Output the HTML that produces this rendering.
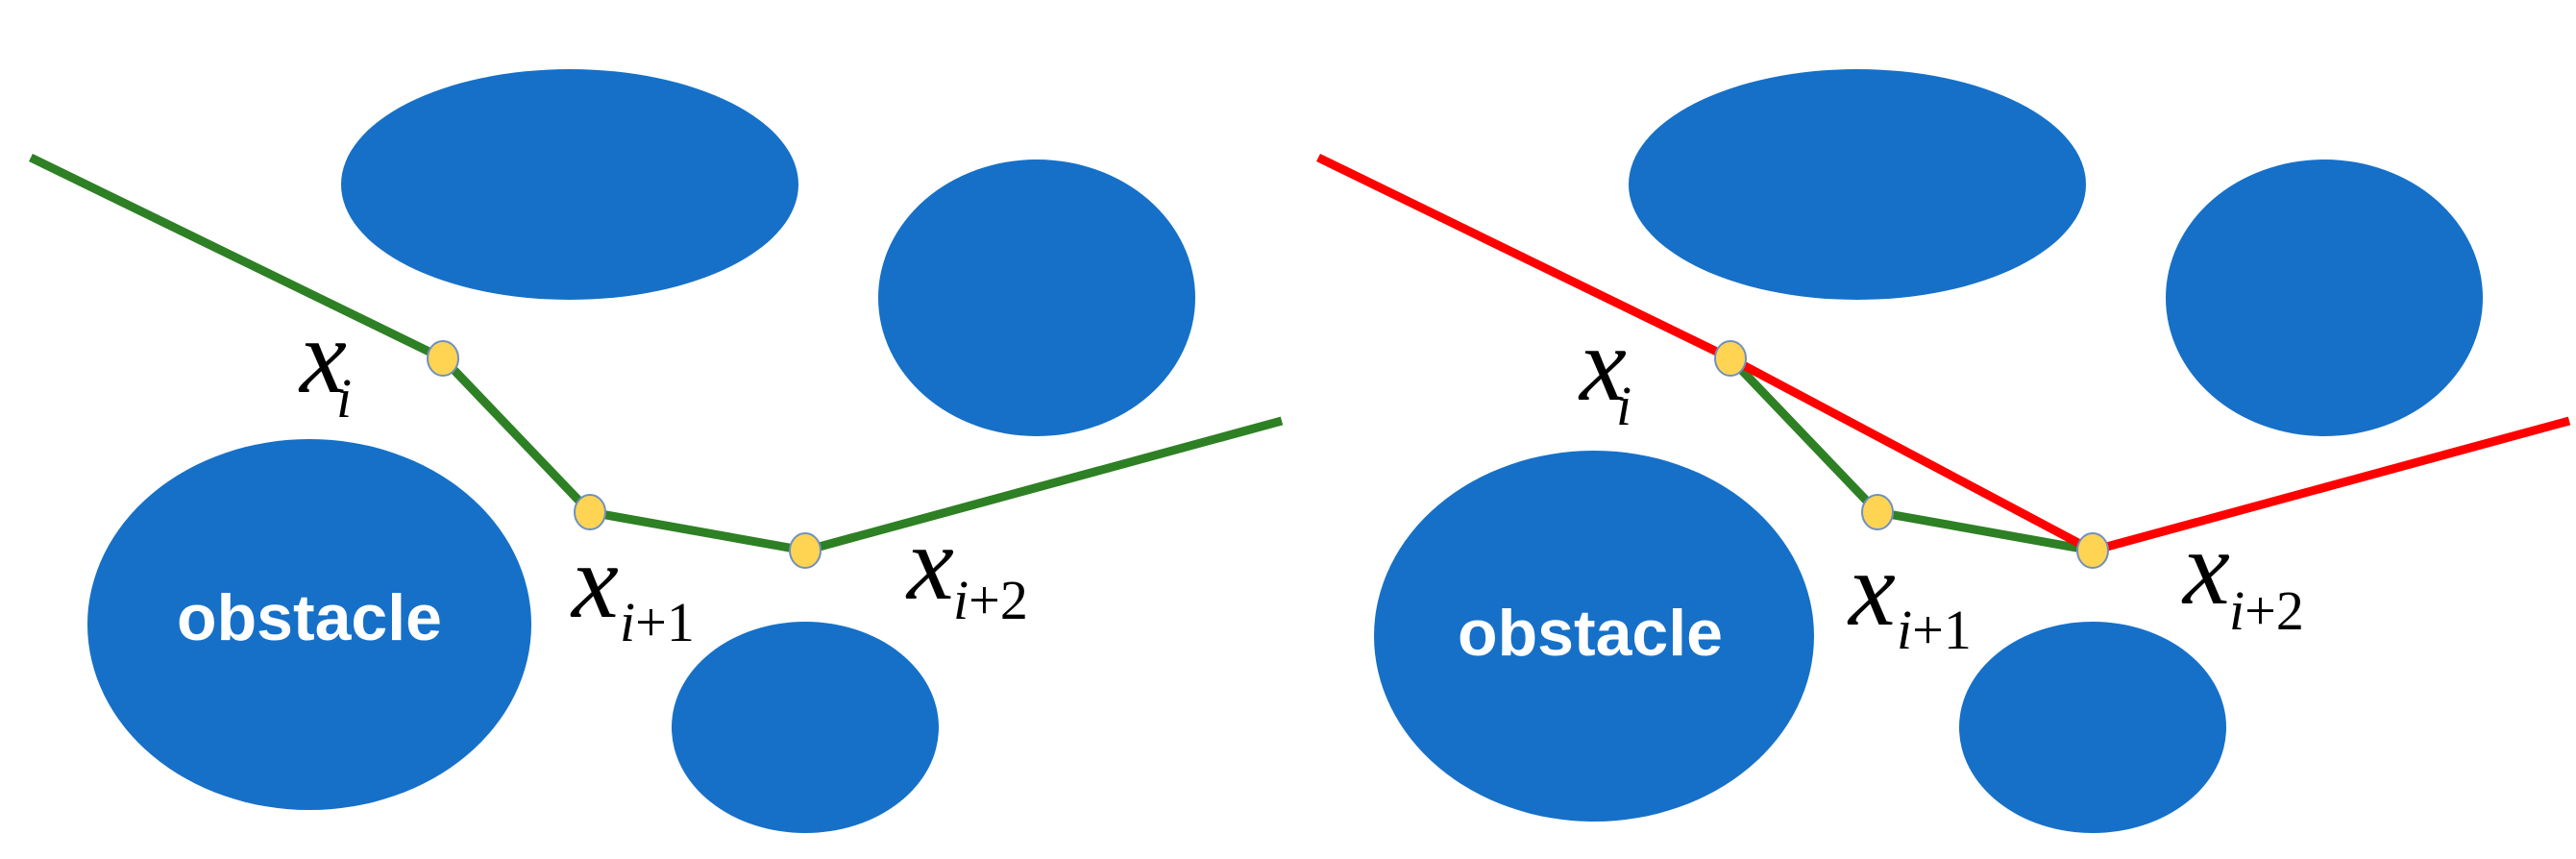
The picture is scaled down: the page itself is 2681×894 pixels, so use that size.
<!DOCTYPE html>
<html><head><meta charset="utf-8"><style>
html,body{margin:0;padding:0;background:#fff}
svg{display:block}
.lab{font-family:"Liberation Serif",serif;font-style:italic;fill:#000}
.sub{font-family:"Liberation Serif",serif;fill:#000}
.ob{font-family:"Liberation Sans",sans-serif;font-weight:bold;fill:#fff}
</style></head><body>
<svg width="2681" height="894" viewBox="0 0 2681 894" xmlns="http://www.w3.org/2000/svg">
<g id="L">
<g fill="#1670C8">
<ellipse cx="593" cy="192" rx="238" ry="120"/>
<ellipse cx="1079" cy="310" rx="165" ry="144"/>
<ellipse cx="322" cy="650" rx="231" ry="193"/>
<ellipse cx="838" cy="757" rx="139" ry="110"/>
</g>
<text class="ob" x="322" y="666" font-size="68" text-anchor="middle">obstacle</text>
<polyline points="32,164 461,373 614,533 838,573 1334,438" fill="none" stroke="#2E8024" stroke-width="9" stroke-linejoin="round"/>
<g fill="#FFD452" stroke="#6E8FC0" stroke-width="2">
<ellipse cx="461" cy="373" rx="16" ry="18"/>
<ellipse cx="614" cy="533" rx="16" ry="18"/>
<ellipse cx="838" cy="573" rx="16" ry="18"/>
</g>
<text class="lab" x="312" y="408" font-size="110">x</text>
<text class="lab" x="350" y="434" font-size="58">i</text>
<text class="lab" x="595" y="642" font-size="110">x</text>
<text class="sub" x="645" y="667" font-size="58"><tspan font-style="italic">i</tspan>+1</text>
<text class="lab" x="944" y="623" font-size="110">x</text>
<text class="sub" x="992" y="644" font-size="58"><tspan font-style="italic">i</tspan>+2</text>
</g>
<g transform="translate(1340,0)">
<g fill="#1670C8">
<ellipse cx="593" cy="192" rx="238" ry="120"/>
<ellipse cx="1079" cy="310" rx="165" ry="144"/>
<ellipse cx="319" cy="662" rx="229" ry="193"/>
<ellipse cx="838" cy="757" rx="139" ry="110"/>
</g>
<text class="ob" x="315" y="682" font-size="68" text-anchor="middle">obstacle</text>
<polyline points="461,373 614,533 838,573" fill="none" stroke="#2E8024" stroke-width="9" stroke-linejoin="round"/>
<polyline points="32,164 461,373 838,573 1334,438" fill="none" stroke="#FF0000" stroke-width="9" stroke-linejoin="round"/>
<g fill="#FFD452" stroke="#6E8FC0" stroke-width="2">
<ellipse cx="461" cy="373" rx="16" ry="18"/>
<ellipse cx="614" cy="533" rx="16" ry="18"/>
<ellipse cx="838" cy="573" rx="16" ry="18"/>
</g>
<text class="lab" x="304" y="416" font-size="110">x</text>
<text class="lab" x="342" y="442" font-size="58">i</text>
<text class="lab" x="584" y="650" font-size="110">x</text>
<text class="sub" x="634" y="675" font-size="58"><tspan font-style="italic">i</tspan>+1</text>
<text class="lab" x="932" y="628" font-size="110">x</text>
<text class="sub" x="980" y="655" font-size="58"><tspan font-style="italic">i</tspan>+2</text>
</g>
</svg>
</body></html>
